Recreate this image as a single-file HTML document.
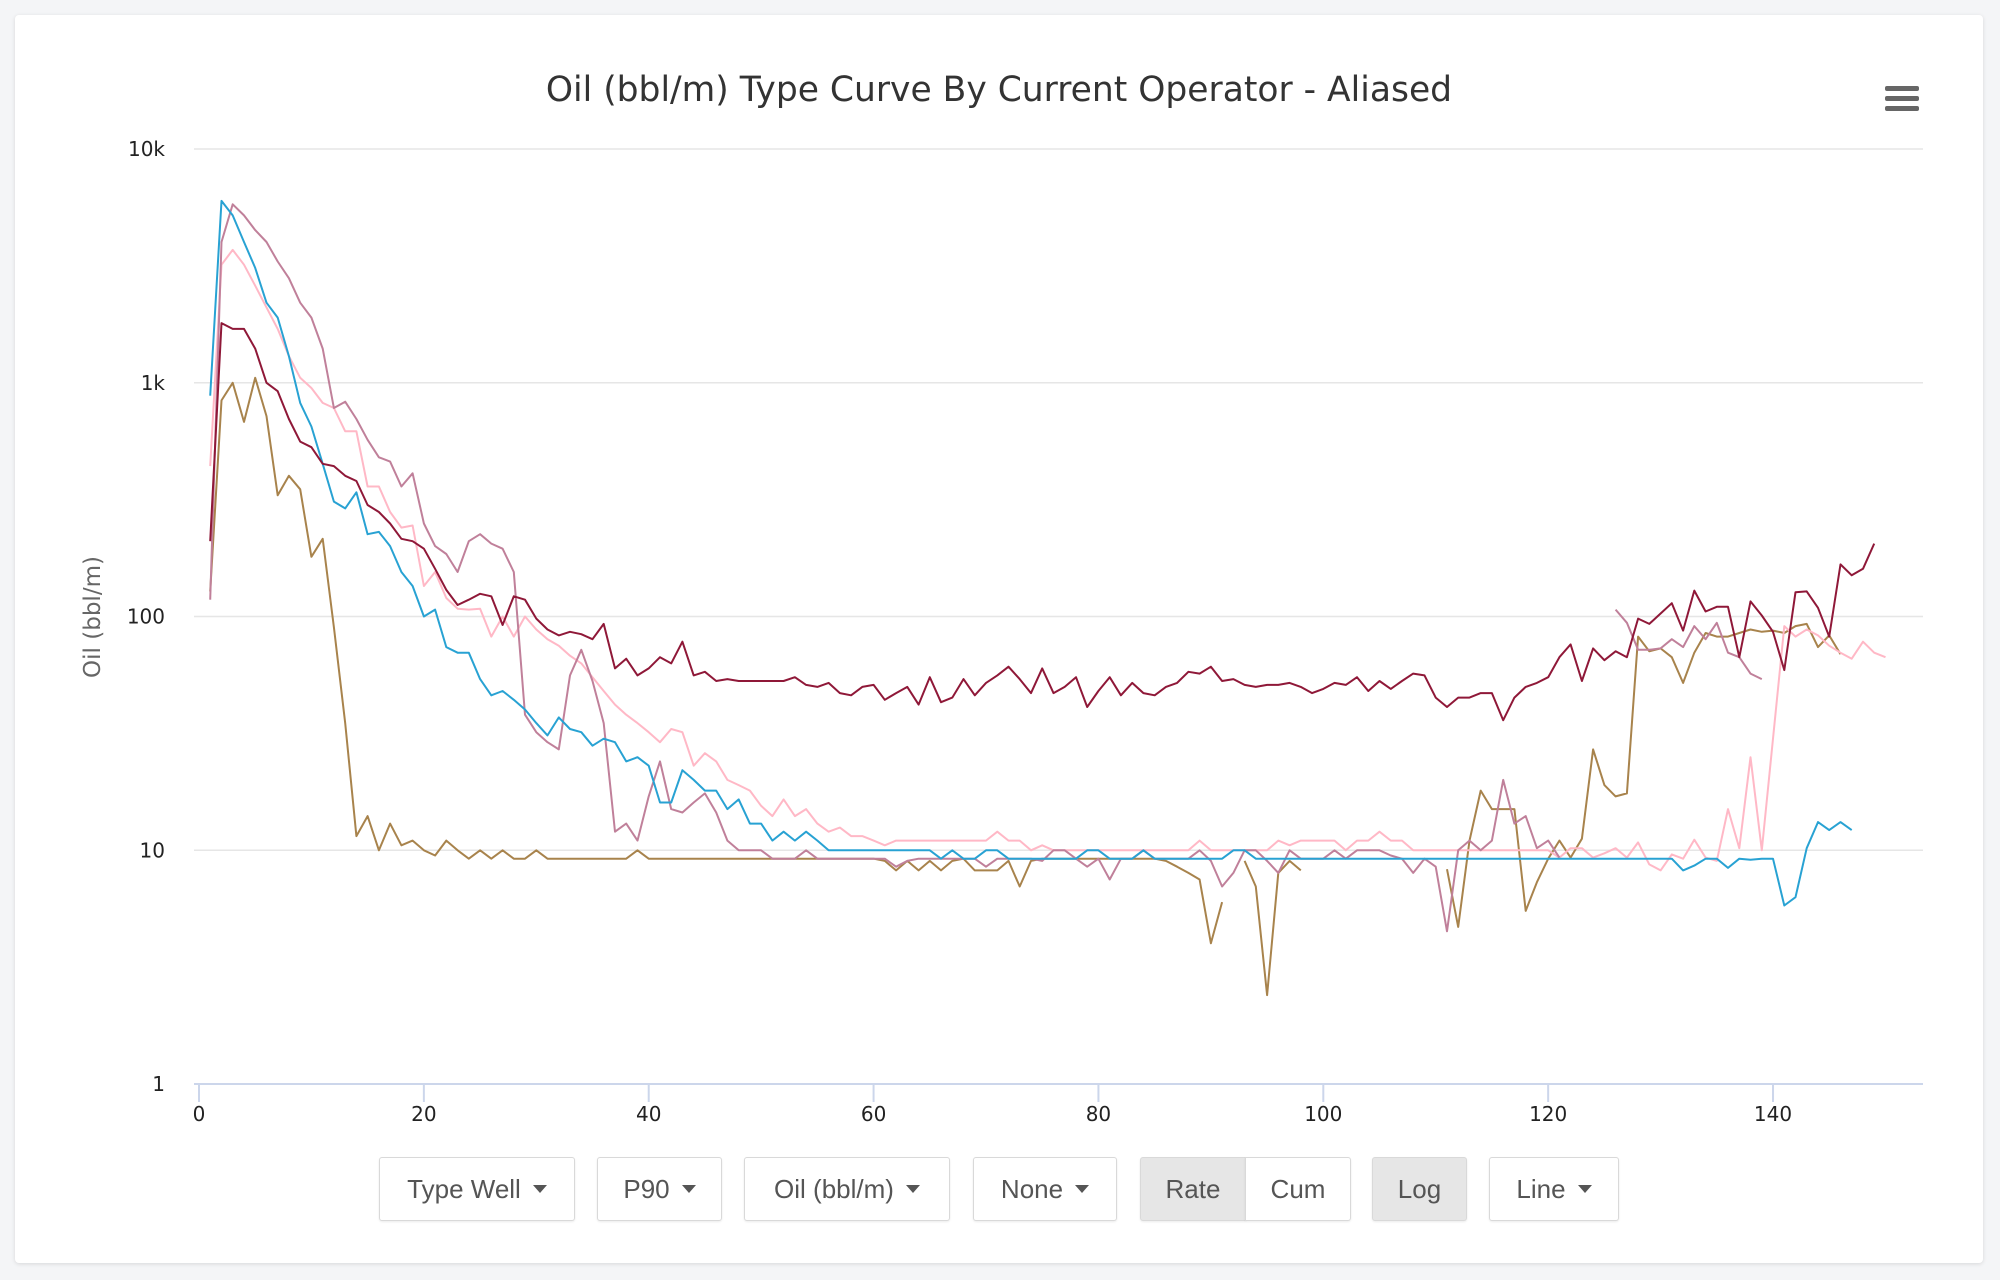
<!DOCTYPE html>
<html><head><meta charset="utf-8">
<style>
body{margin:0;width:2000px;height:1280px;background:#f4f5f7;font-family:"Liberation Sans",sans-serif;overflow:hidden;position:relative}
#card{position:absolute;left:15px;top:15px;width:1968px;height:1248px;background:#fff;border-radius:4px;box-shadow:0 1px 4px rgba(0,0,0,0.12)}
.btn{position:absolute;top:1157px;height:64px;border:1px solid #d9d9d9;border-radius:3px;background:#fff;color:#555;font-size:26px;display:flex;align-items:center;justify-content:center;box-sizing:border-box;box-shadow:0 1px 2px rgba(0,0,0,0.08)}
.btn.on{background:#e6e6e6}
.car{display:inline-block;width:0;height:0;border-left:7px solid transparent;border-right:7px solid transparent;border-top:8px solid #555;margin-left:12px}
</style></head><body>
<div id="card"></div>
<svg id="chart" width="2000" height="1280" style="position:absolute;left:0;top:0;font-family:'DejaVu Sans',sans-serif">
<text x="999" y="101" text-anchor="middle" font-size="34.5" fill="#333">Oil (bbl/m) Type Curve By Current Operator - Aliased</text>
<g>
<rect x="1885" y="86" width="34" height="5" rx="2" fill="#666"/><rect x="1885" y="96" width="34" height="5" rx="2" fill="#666"/><rect x="1885" y="106" width="34" height="5" rx="2" fill="#666"/>
</g>
<text transform="translate(100,617) rotate(-90)" text-anchor="middle" font-size="23" fill="#666">Oil (bbl/m)</text>
<g id="grid"></g><g id="axes"></g><g id="series"></g>
</svg>
<div class="btn" style="left:379px;width:196px">Type Well<span class="car"></span></div>
<div class="btn" style="left:597px;width:125px">P90<span class="car"></span></div>
<div class="btn" style="left:744px;width:206px">Oil (bbl/m)<span class="car"></span></div>
<div class="btn" style="left:973px;width:144px">None<span class="car"></span></div>
<div class="btn on" style="left:1140px;width:106px;border-radius:3px 0 0 3px">Rate</div>
<div class="btn" style="left:1245px;width:106px;border-radius:0 3px 3px 0">Cum</div>
<div class="btn on" style="left:1372px;width:95px">Log</div>
<div class="btn" style="left:1489px;width:130px">Line<span class="car"></span></div>
<script>
const xTicks=[0,20,40,60,80,100,120,140];
const yTicks=[1,10,100,1000,10000];
const yTickLabels=["1","10","100","1k","10k"];
const blue=[880,6000,5200,4000,3100,2200,1900,1300,820,650,450,310,290,340,225,230,200,155,135,100,107,74,70,70,54,46,48,44,40,35,31,37,33,32,28,30,29,24,25,23,16,16,22,20,18,18,15,16.5,13,13,11,12,11,12,11,10,10,10,10,10,10,10,10,10,10,9.2,10,9.2,9.2,10,10,9.2,9.2,9.2,9.2,9.2,9.2,9.2,10,10,9.2,9.2,9.2,10,9.2,9.2,9.2,9.2,9.2,9.2,9.2,10,10,9.2,9.2,9.2,9.2,9.2,9.2,9.2,9.2,9.2,9.2,9.2,9.2,9.2,9.2,9.2,9.2,9.2,9.2,9.2,9.2,9.2,9.2,9.2,9.2,9.2,9.2,9.2,9.2,9.2,9.2,9.2,9.2,9.2,9.2,9.2,9.2,9.2,9.2,8.2,8.6,9.2,9.2,8.4,9.2,9.1,9.2,9.2,5.8,6.3,10.2,13.2,12.2,13.2,12.2];
const darkRed=[210,1800,1700,1700,1400,1000,920,700,560,530,450,440,400,380,300,280,250,215,210,195,160,130,112,118,125,122,92,122,118,98,88,83,86,84,80,93,60,66,56,60,67,63,78,56,58,53,54,53,53,53,53,53,55,51,50,52,47,46,50,51,44,47,50,42,55,43,45,54,46,52,56,61,54,47,60,47,50,55,41,48,55,46,52,47,46,50,52,58,57,61,53,54,51,50,51,51,52,50,47,49,52,51,55,48,53,49,53,57,56,45,41,45,45,47,47,36,45,50,52,55,67,76,53,73,65,71,67,98,93,103,114,87,129,105,110,110,67,116,101,86,59,127,128,109,82,167,150,160,205];
const mauve=[118,4000,5800,5200,4500,4000,3300,2800,2200,1900,1400,780,830,700,570,480,460,360,410,250,200,185,155,210,225,205,195,155,38,32,29,27,56,72,53,35,12,13,11,17,24,15,14.5,16,17.5,14.5,11,10,10,10,9.2,9.2,9.2,10,9.2,9.2,9.2,9.2,9.2,9.2,9.2,8.5,9,9.2,9.2,9.2,9.2,9.2,9.2,8.5,9.2,9.2,9.2,9.2,9,10,10,9.2,8.5,9.2,7.5,9.2,9.2,10,9.2,9.2,9.2,9.2,10,9,7,8,10,10,9,8,10,9.2,9.2,9.2,10,9.2,10,10,10,9.5,9.2,8,9.2,8.5,4.5,10,11,10,11,20,13,14,10.2,11,9.3,null,null,null,null,107,94,72,72,73,80,74,91,80,94,70,67,57,54];
const pink=[440,3200,3700,3200,2600,2100,1700,1300,1050,950,820,780,620,620,360,360,280,240,245,135,155,120,108,107,108,82,100,82,100,88,80,75,68,63,55,48,42,38,35,32,29,33,32,23,26,24,20,19,18,15.5,14,16.5,14,15,13,12,12.5,11.5,11.5,11,10.5,11,11,11,11,11,11,11,11,11,12,11,11,10,10.5,10,10,10,10,10,10,10,10,10,10,10,10,10,11,10,10,10,10,10,10,11,10.5,11,11,11,11,10,11,11,12,11,11,10,10,10,10,10,10,10,10,10,10,10,10,10,9.3,10.2,10.2,9.3,9.7,10.2,9.3,10.8,8.7,8.2,9.6,9.2,11.1,9.3,9,15,10.2,25,10,30,91,82,88,83,75,70,66,78,70,67];
const brown=[128,840,1000,680,1050,720,330,400,350,180,215,90,35,11.5,14,10,13,10.5,11,10,9.5,11,10,9.2,10,9.2,10,9.2,9.2,10,9.2,9.2,9.2,9.2,9.2,9.2,9.2,9.2,10,9.2,9.2,9.2,9.2,9.2,9.2,9.2,9.2,9.2,9.2,9.2,9.2,9.2,9.2,9.2,9.2,9.2,9.2,9.2,9.2,9.2,9,8.2,9,8.2,9,8.2,9,9.2,8.2,8.2,8.2,9,7,9,9.2,9.2,9.2,9.2,9.2,9.2,9.2,9.2,9.2,9.2,9.2,9,8.5,8,7.5,4,6,null,9,7,2.4,8,9,8.2,null,null,null,null,null,null,null,null,null,null,null,null,8.3,4.7,11,18,15,15,15,5.5,7.3,9.2,11,9.3,11.2,27,19,17,17.5,82,71,73,67,52,70,85,82,82,85,88,86,87,85,91,93,74,83,69];
const seriesList=[["brown-series",brown,"#a8834c"],["pink-series",pink,"#ffb8c6"],["mauve-series",mauve,"#c0809a"],["blue-series",blue,"#28a2d3"],["dark-red-series",darkRed,"#8f1838"]];
const NS="http://www.w3.org/2000/svg";
const X0=199,XS=11.243,YTOP=149,YBOT=1084,PR=1923;
function xScale(v){return X0+v*XS;}
function yScale(v){return YBOT-(Math.log10(v)/4)*(YBOT-YTOP);}
const grid=document.getElementById('grid'),axes=document.getElementById('axes'),sg=document.getElementById('series');
function mk(tag,attrs,parent){const e=document.createElementNS(NS,tag);for(const k in attrs)e.setAttribute(k,attrs[k]);parent.appendChild(e);return e;}
yTicks.forEach((t,i)=>{
  const y=yScale(t);
  if(i>0){const l=mk('line',{x1:194,x2:PR,y1:y,y2:y,stroke:'#e6e6e6','stroke-width':1.5},grid);
  
  }
  const tx=mk('text',{x:165,y:y+7,'text-anchor':'end','font-size':20,fill:'#222'},axes);
  tx.textContent=yTickLabels[i];
  
  
});
const ax=mk('line',{x1:194,x2:PR,y1:YBOT,y2:YBOT,stroke:'#ccd6eb','stroke-width':2},axes);


xTicks.forEach(t=>{
  const x=xScale(t);
  const tk=mk('line',{x1:x,x2:x,y1:YBOT,y2:YBOT+18,stroke:'#ccd6eb','stroke-width':2},axes);
  
  
  const tx=mk('text',{x:x,y:1121,'text-anchor':'middle','font-size':20,fill:'#222'},axes);
  tx.textContent=String(t);
  
  
});
seriesList.forEach(s=>{
  const data=s[1];let d='',pen=false;
  data.forEach((v,i)=>{
    if(v==null){pen=false;return;}
    const x=xScale(i+1).toFixed(1),y=yScale(v).toFixed(1);
    d+=(pen?'L':'M')+x+' '+y+' ';pen=true;
  });
  const p=mk('path',{d:d,fill:'none',stroke:s[2],'stroke-width':2,'stroke-linejoin':'round'},sg);
  
  
});
</script>
</body></html>
